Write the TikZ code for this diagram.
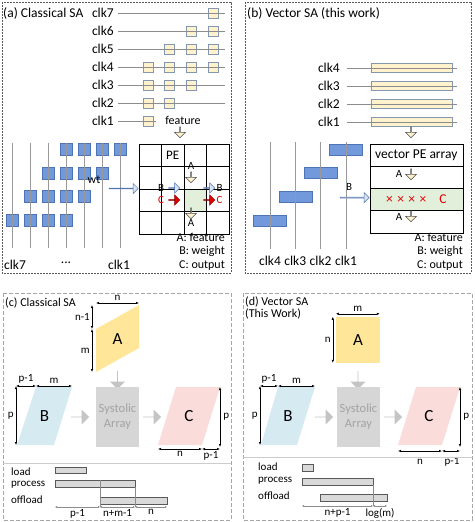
\documentclass[tikz,border=0pt]{standalone}
\usepackage{fontspec}
\setmainfont{Carlito}
\usetikzlibrary{shapes.arrows}
\usetikzlibrary{arrows.meta}
\usetikzlibrary{positioning}
\usetikzlibrary{matrix}

\definecolor{featyellow}{HTML}{FFF2CC}
\definecolor{featedge}{HTML}{8497B0}
\definecolor{wtblue}{HTML}{7199DB}
\definecolor{wtedge}{HTML}{4F74B3}
\definecolor{pegreen}{HTML}{E2EFDA}
\definecolor{hollowblue}{HTML}{DAE3F3}
\definecolor{outred}{HTML}{E00000}
\definecolor{matA}{HTML}{FFE699}
\definecolor{matB}{HTML}{D6EAF2}
\definecolor{matC}{HTML}{FADCDA}
\definecolor{sagray}{HTML}{D6D6D6}
\definecolor{satext}{HTML}{A3A3A3}
\definecolor{arrowgray}{HTML}{C4C4C4}
\definecolor{clkline}{HTML}{8C8C8C}

\tikzset{
  lbl/.style={font=\fontsize{13.5}{15}\selectfont, inner sep=0pt},
  leg/.style={font=\fontsize{12}{14}\selectfont, inner sep=0pt, anchor=east},
  sml/.style={font=\fontsize{11}{12}\selectfont, inner sep=0pt},
  bigl/.style={font=\fontsize{17}{18}\selectfont, inner sep=0pt},
  frameab/.style={draw=black!65, line width=0.9pt, dash pattern=on 2pt off 1pt},
  framecd/.style={draw=black!35, line width=0.8pt, dash pattern=on 4pt off 2pt},
  clkln/.style={draw=clkline, line width=0.5pt},
  vln/.style={draw=black!40, line width=0.5pt},
  fsq/.style={draw=featedge, fill=featyellow, minimum size=10pt, inner sep=0pt, line width=0.5pt},
  fbar/.style={draw=featedge, fill=featyellow, minimum width=81pt, minimum height=9pt, inner sep=0pt, line width=0.5pt},
  wsq/.style={draw=wtedge, fill=wtblue, minimum size=12pt, inner sep=0pt, line width=0.4pt},
  wbar/.style={draw=wtedge, fill=wtblue, minimum width=33pt, minimum height=11pt, inner sep=0pt, line width=0.4pt},
  blockarrow/.style={single arrow, inner sep=0pt, single arrow head extend=2.5pt, line width=0.5pt},
  featarrow/.style={blockarrow, draw=black!70, fill=featyellow, minimum width=11pt, minimum height=11pt, shape border rotate=270},
  wtarrow/.style={blockarrow, draw=wtedge, fill=hollowblue, minimum width=10pt, minimum height=11pt},
  outarrow/.style={blockarrow, draw=outred!60!black, fill=outred, minimum width=10pt, minimum height=11pt},
  fatarrow/.style={single arrow, inner sep=0pt, single arrow head extend=3.5pt, fill=arrowgray, minimum width=15pt, minimum height=18pt},
  sabox/.style={fill=sagray, text=satext, minimum width=43pt, minimum height=60pt, inner sep=0pt, align=center, font=\fontsize{12.5}{15}\selectfont},
  dim/.style={line width=0.5pt, {Latex[length=3pt,width=2.4pt]}-{Latex[length=3pt,width=2.4pt]}},
  tbar/.style={draw=black!65, fill=black!15, line width=0.5pt},
  tline/.style={draw=black!45, line width=0.5pt},
  taxis/.style={draw=black!45, line width=0.5pt, {Latex[length=2pt,width=2pt]}-{Latex[length=2pt,width=2pt]}},
}

\begin{document}
\begin{tikzpicture}[x=1pt,y=-1pt]
\useasboundingbox (0,0) rectangle (474,522);
\draw[frameab] (2,2) rectangle (231,273);
\draw[frameab] (245,2) rectangle (471,273);
\draw[framecd] (3,293) rectangle (231,520);
\draw[framecd] (243,293) rectangle (472,520);

% (a) classical systolic array
\node[lbl,anchor=west] (ta) at (3,13) {(a) Classical SA};
\foreach \k/\y/\cols in {7/13/{4},6/31/{3,4},5/49/{2,3,4},4/67/{1,2,3,4},3/85/{1,2,3},2/103/{1,2},1/121/{1}}{
  \node[lbl,anchor=east] (clka\k) at (114,\y) {clk\k};
  \foreach \c in \cols
    \node[fsq] (fa\k\c) at ({148+21.7*(\c-1)},\y) {};
}
\foreach \k in {2,...,7}
  \draw[clkln] ([xshift=4pt]clka\k.east) -- +(107,0);
\draw[clkln] ([xshift=4pt]clka1.east) -- ([xshift=3pt]fa11.east);
\node[leg,anchor=center] (feat) at (183,120) {feature};
\node[featarrow] (farr) at (180,132) {};

\foreach \r/\y in {1/149,2/172.7,3/196.3,4/220}
  \foreach \j in {1,...,4}{
    \pgfmathtruncatemacro{\i}{4-\r+\j}
    \node[wsq] (w\r\j) at ({12+18*(\i-1)},\y) {};
  }
\foreach \i in {1,...,7}
  \draw[vln] ({12+18*(\i-1)},143) -- +(0,105);
\node[lbl] (wclk7) at (15,265) {clk7};
\node[lbl] (wdots) at (66,263) {...};
\node[lbl] (wclk1) at (119,265) {clk1};

\matrix (pe) [matrix of nodes, nodes in empty cells, anchor=north west,
  nodes={draw, anchor=center, line width=0.6pt, minimum size=22.5pt, inner sep=0pt, font=\fontsize{13}{14}\selectfont},
  column sep=-0.6pt, row sep=-0.6pt] at (135,140)
{
  & PE & & \\
  & & & \\
  & & |[fill=pegreen]| & \\
  & & & \\
};
\node[sml] (atop) at (191,166) {A};
\node[featarrow] (aarr1) at (191,177) {};
\node[featarrow] (aarr2) at (191,213) {};
\node[sml] (abot) at (191,223) {A};
\node[sml] (bl) at (161,188) {B};
\node[sml,text=outred] (cl) at (161,200) {C};
\node[wtarrow] (barr1) at (174,188) {};
\node[outarrow] (carr1) at (174,200) {};
\node[wtarrow] (barr2) at (209,188) {};
\node[outarrow] (carr2) at (209,200) {};
\node[sml] (br) at (219.5,188) {B};
\node[sml,text=outred] (cr) at (219.5,200) {C};
\node[wtarrow, minimum height=29pt, anchor=east] (wtarr) at (pe-3-1.north west) {};
\node[leg,anchor=center] (wt) at (94,180) {wt};

\node[leg] (la) at (225,237) {A: feature};
\node[leg] (lb) at (225,251) {B: weight};
\node[leg] (lc) at (225,266) {C: output};

% (b) vector systolic array
\node[lbl,anchor=west] (tb) at (247,13) {(b) Vector SA (this work)};
\foreach \k/\y in {4/68,3/86,2/104,1/122}{
  \node[lbl,anchor=east] (clkb\k) at (340,\y) {clk\k};
  \node[fbar] (fb\k) at (411.5,\y) {};
  \draw[clkln] ([xshift=7pt]clkb\k.east) -- +(110,0);
}
\node[featarrow] (fbarr) at (411,132) {};

\matrix (vpe) [matrix of nodes, nodes in empty cells, anchor=north west,
  nodes={draw, anchor=center, line width=0.6pt, minimum width=93pt, minimum height=22.3pt, inner sep=0pt, font=\fontsize{13.5}{15}\selectfont},
  row sep=-0.6pt] at (366,140)
{
  vector PE array \\
  \\
  |[fill=pegreen, text=outred]| ×\hspace{4.5pt}×\hspace{4.5pt}×\hspace{4.5pt}×\hspace{13pt}C \\
  \\
};
\node[sml] (va1) at (399,174) {A};
\node[featarrow] (vaarr1) at (411,174) {};
\node[sml] (va2) at (399,217) {A};
\node[featarrow] (vaarr2) at (411,216) {};
\node[wtarrow, minimum height=29pt, anchor=east] (vbarr) at ([yshift=2pt]vpe-3-1.west) {};
\node[sml] (vb) at (349,187) {B};

\foreach \k/\x/\y in {1/346/150,2/320.6/173,3/295.3/197,4/270/221}{
  \node[wbar] (wb\k) at (\x,\y) {};
  \draw[vln] (\x,142) -- (\x,249);
  \node[lbl] (clkv\k) at (\x,261) {clk\k};
}
\node[leg] (vla) at (463,237) {A: feature};
\node[leg] (vlb) at (463,251) {B: weight};
\node[leg] (vlc) at (463,266) {C: output};

% (c) classical dataflow
\node[leg,anchor=west] (tc) at (5,303) {(c) Classical SA};
\coordinate (cA1) at (96,329);
\coordinate (cA2) at (139,305);
\coordinate (cA3) at (139,348);
\coordinate (cA4) at (96,372);
\fill[matA] (cA1) -- (cA2) -- (cA3) -- (cA4) -- cycle;
\node[bigl] (cA) at (117.5,339) {A};
\draw[dim] (96,303) -- node[sml,above=2pt] (cdn) {n} (139,303);
\draw[dim] (92,305) -- node[sml,left=2pt] (cdn1) {n-1} (92,329);
\draw[dim] (92,329) -- node[sml,left=2pt] (cdm) {m} (92,372);
\node[fatarrow, shape border rotate=270] (cdown) at (117.5,380) {};
\node[sabox] (cSA) at (117.5,417) {Systolic\\Array};

\coordinate (cB1) at (36,387);
\coordinate (cB2) at (72,387);
\coordinate (cB3) at (54,445);
\coordinate (cB4) at (17,445);
\fill[matB] (cB1) -- (cB2) -- (cB3) -- (cB4) -- cycle;
\node[bigl] (cB) at (44.5,416) {B};
\draw[dim] (16,386) -- node[sml,above=2pt] (cdp1) {p-1} (36,386);
\draw[dim] (36,386) -- node[sml,above=2pt] (cdmb) {m} (72,386);
\draw[dim] (16,386) -- node[sml,left=2pt] (cdp) {p} (16,445);
\node[fatarrow] (carrb) at (80,417) {};
\node[fatarrow] (carrc) at (152,417) {};

\coordinate (cC1) at (176,387);
\coordinate (cC2) at (220,387);
\coordinate (cC3) at (202,445);
\coordinate (cC4) at (158,445);
\fill[matC] (cC1) -- (cC2) -- (cC3) -- (cC4) -- cycle;
\node[bigl] (cC) at (189,416) {C};
\draw[dim] (158,449) -- node[sml,below=2pt] (cdnc) {n} (202,449);
\draw[dim] (202,449) -- node[sml,below=2pt] (cdp1c) {p-1} (220,449);
\draw[dim] (220,387) -- node[sml,right=3pt] (cdpc) {p} (220,447);

\draw[draw=black!20, line width=0.6pt] (3,463) -- (231,463);
\node[sml,anchor=west] (cload) at (11,472) {load};
\node[sml,anchor=west] (cproc) at (11,485) {process};
\node[sml,anchor=west] (coff) at (11,500) {offload};
\draw[tbar] (55,467) rectangle (86,473);
\draw[tbar] (55,480) rectangle (135,487);
\draw[tbar] (100,497) rectangle (167,504);
\draw[tline] (100,480) -- (100,507);
\draw[tline] (135,487) -- (135,507);
\draw[taxis] (55,507) -- node[sml,below=2pt] (cx1) {p-1} (100,507);
\draw[taxis] (100,507) -- node[sml,below=2pt] (cx2) {n+m-1} (135,507);
\draw[taxis] (135,507) -- node[sml,below=2pt] (cx3) {n} (167,507);

% (d) vector dataflow
\node[leg,anchor=north west,align=left,font=\fontsize{12}{11.5}\selectfont] (td) at (245,297) {(d) Vector SA\\(This Work)};
\node[fill=matA, minimum width=44pt, minimum height=46pt, inner sep=0pt] (dAbox) at (358,340) {};
\node[bigl] (dA) at (dAbox) {A};
\draw[dim] (dAbox.north west) ++(0,-3) -- node[sml,above=2pt] (ddm) {m} ++(44,0);
\draw[dim] (dAbox.north west) ++(-3,0) -- node[sml,left=2pt] (ddn) {n} ++(0,46);
\node[fatarrow, shape border rotate=270] (ddown) at (358,380) {};
\node[sabox] (dSA) at (358.5,417) {Systolic\\Array};

\coordinate (dB1) at (278,387);
\coordinate (dB2) at (315,387);
\coordinate (dB3) at (297,445);
\coordinate (dB4) at (261,445);
\fill[matB] (dB1) -- (dB2) -- (dB3) -- (dB4) -- cycle;
\node[bigl] (dB) at (288,416) {B};
\draw[dim] (260,386) -- node[sml,above=2pt] (ddp1) {p-1} (278,386);
\draw[dim] (278,386) -- node[sml,above=2pt] (ddmb) {m} (315,386);
\draw[dim] (260,386) -- node[sml,left=2pt] (ddp) {p} (260,445);
\node[fatarrow] (darrb) at (324,417) {};
\node[fatarrow] (darrc) at (393,417) {};

\coordinate (dC1) at (416,387);
\coordinate (dC2) at (460,387);
\coordinate (dC3) at (442,445);
\coordinate (dC4) at (398,445);
\fill[matC] (dC1) -- (dC2) -- (dC3) -- (dC4) -- cycle;
\node[bigl] (dC) at (429,416) {C};
\draw[dim] (398,451) -- (442,451);
\draw[dim] (442,451) -- (460,451);
\node[sml] (ddnc) at (420,462) {n};
\node[sml] (ddp1c) at (452,462) {p-1};
\draw[dim] (460,387) -- node[sml,right=3pt] (ddpc) {p} (460,447);

\draw[draw=black!20, line width=0.6pt] (243,457) -- (472,457);
\node[sml,anchor=west] (dload) at (258,467) {load};
\node[sml,anchor=west] (dproc) at (258,481) {process};
\node[sml,anchor=west] (doff) at (258,496) {offload};
\draw[tbar] (302,464) rectangle (313,471);
\draw[tbar] (302,478) rectangle (373,485);
\draw[tbar] (320,494) rectangle (387,501);
\draw[tline] (373,485) -- (373,506);
\draw[taxis] (302,506) -- node[sml,below=2pt] (dx1) {n+p-1} (373,506);
\draw[taxis] (373,506) -- node[sml,below=2pt] (dx2) {log(m)} (387,506);
\end{tikzpicture}
\end{document}
